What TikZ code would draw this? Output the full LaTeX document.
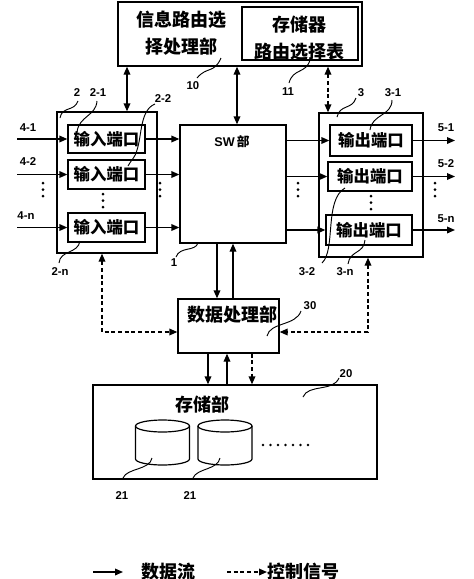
\documentclass[tikz,border=0pt]{standalone}
\usepackage{fontspec}
\setmainfont{Liberation Sans}
\newfontfamily\cjk{Noto Sans CJK SC}
\usetikzlibrary{arrows.meta,fit}
\begin{document}
\begin{tikzpicture}[x=0.75pt,y=-0.75pt,
  box/.style={draw, line width=1pt, inner sep=0pt},
  cj/.style={font=\cjk\bfseries\fontsize{13.5}{15}\selectfont, inner sep=0pt},
  cjp/.style={font=\cjk\bfseries\fontsize{12.3}{14}\selectfont, inner sep=0pt},
  lbl/.style={font=\bfseries\fontsize{8.5}{10}\selectfont, inner sep=0pt},
  sar/.style={line width=1pt, -{Triangle[length=6pt,width=5pt]}},
  dar/.style={line width=1pt, {Triangle[length=6pt,width=5pt]}-{Triangle[length=6pt,width=5pt]}},
  dsh/.style={dash pattern=on 3pt off 2pt},
  lead/.style={line width=0.7pt}]
\useasboundingbox (0,0) rectangle (474,579);
% top boxes
\node[box, fit={(118,2) (362,66)}] (b10) {};
\node[box, fit={(242,7) (358,60)}] (b11) {};
\node[cj, align=center] (t10) at (181,33) {信息路由选\\[5pt]择处理部};
\node[cj, align=center] (t11) at (299,38) {存储器\\[5pt]路由选择表};
% input side
\node[box, fit={(57,112) (157,253)}] (b2) {};
\node[box, fit={(68,125) (145,153)}] (p21) {};
\node[box, fit={(68,160) (145,189)}] (p22) {};
\node[box, fit={(68,213) (145,242)}] (p2n) {};
\node[cjp] (tp21) at (p21.center) {输入端口};
\node[cjp] (tp22) at (p22.center) {输入端口};
\node[cjp] (tp2n) at (p2n.center) {输入端口};
% switch
\node[box, fit={(180,125) (286,243)}] (sw) {};
\node[inner sep=0pt, font=\fontsize{9.5}{11}\selectfont\bfseries] (tsw) at (232,142) {SW\,{\cjk 部}};
% output side
\node[box, fit={(319,113) (423,257)}] (b3) {};
\node[box, fit={(330,125) (412,156)}] (p31) {};
\node[box, fit={(328,162) (412,191)}] (p32) {};
\node[box, fit={(326,215) (412,245)}] (p3n) {};
\node[cjp] (tp31) at (p31.center) {输出端口};
\node[cjp] (tp32) at (p32.center) {输出端口};
\node[cjp] (tp3n) at (p3n.center) {输出端口};
% data processing
\node[box, fit={(178,299) (279,353)}] (b30) {};
\node[cj] (t30) at (232,315) {数据处理部};
% storage
\node[box, fit={(93,385) (377,479)}] (b20) {};
\node[cj] (t20) at (202,405) {存储部};
% cylinders
\foreach \cx in {162.5,225}{
  \draw[line width=0.9pt] (\cx-27,426) -- (\cx-27,459) arc (180:0:27 and 6) -- (\cx+27,426);
  \draw[line width=0.9pt] (\cx,426) ellipse (27 and 6);
}
\foreach \i in {0,...,6} \fill (263+\i*7.5,445) circle (1.4);
% vertical arrows top
\draw[dar] (b10.south -| 127,0) -- (b2.north -| 127,0);
\draw[dar] (b10.south -| 237,0) -- (sw.north -| 237,0);
\draw[dar,dsh] (b10.south -| 328,0) -- (b3.north -| 328,0);
% inputs
\coordinate (i1) at (17,139);
\coordinate (i2) at (17,174.5);
\coordinate (i3) at (17,227.5);
\draw[sar] (i1) -- (p21.west);
\draw[sar] (i2) -- (p22.west);
\draw[sar] (i3) -- (p2n.west);
\draw[sar] (p21.east) -- (p21.east -| sw.west);
\draw[sar] (p22.east) -- (p22.east -| sw.west);
\draw[sar] (p2n.east) -- (p2n.east -| sw.west);
% outputs
\draw[sar] (sw.east |- p31.west) -- (p31.west);
\draw[sar] (sw.east |- p32.west) -- (p32.west);
\draw[sar] (sw.east |- p3n.west) -- (p3n.west);
\coordinate (oe) at (455,0);
\draw[sar] (p31.east) -- (p31.east -| oe);
\draw[sar] (p32.east) -- (p32.east -| oe);
\draw[sar] (p3n.east) -- (p3n.east -| oe);
% dots
\foreach \x/\y in {43/183,103/194,160/183,298/183,371/196,435/183}{
  \foreach \k in {0,1,2} \fill (\x,\y+\k*6.5) circle (1.5);
}
% sw <-> 30
\draw[sar] (sw.south -| 217,0) -- (b30.north -| 217,0);
\draw[sar] (b30.north -| 233,0) -- (sw.south -| 233,0);
\draw[dar,dsh] (b2.south -| 102,0) |- (b30.west |- 0,332);
\draw[dar,dsh] (b3.south -| 368,0) |- (b30.east |- 0,332);
% 30 <-> 20
\draw[sar] (b30.south -| 208,0) -- (b20.north -| 208,0);
\draw[sar] (b20.north -| 227,0) -- (b30.south -| 227,0);
\draw[sar,dsh] (b30.south -| 252,0) -- (b20.north -| 252,0);
% labels
\node[lbl] (l41) at (28,128) {4-1};
\node[lbl] (l42) at (28,162) {4-2};
\node[lbl] (l4n) at (26,216) {4-n};
\node[lbl] (l51) at (446,128) {5-1};
\node[lbl] (l52) at (446,164) {5-2};
\node[lbl] (l5n) at (446,219) {5-n};
\node[lbl] (l2) at (77,93) {2};
\node[lbl] (l21) at (98,93) {2-1};
\node[lbl] (l22) at (163,99) {2-2};
\node[lbl] (l2n) at (60,272) {2-n};
\node[lbl] (l1) at (174,263) {1};
\node[lbl] (l3) at (361,93) {3};
\node[lbl] (l31) at (393,93) {3-1};
\node[lbl] (l32) at (307,272) {3-2};
\node[lbl] (l3n) at (345,272) {3-n};
\node[lbl] (l10) at (193,86) {10};
\node[lbl] (l11) at (288,92) {11};
\node[lbl] (l30) at (310,306) {30};
\node[lbl] (l20) at (346,374) {20};
\node[lbl] (l21a) at (122,496) {21};
\node[lbl] (l21b) at (190,496) {21};
% leaders
\draw[lead] (197,78) .. controls (207,66) and (214,74) .. (221,58);
\draw[lead] (289,83) .. controls (293,68) and (306,74) .. (310,60);
\draw[lead] (78,101) .. controls (74,112) and (62,106) .. (60,118);
\draw[lead] (97,101) .. controls (96,116) and (79,116) .. (77,132);
\draw[lead] (155,104) .. controls (140,110) and (142,135) .. (137,150) .. controls (135,158) and (131,160) .. (128,166);
\draw[lead] (59,263) .. controls (60,250) and (78,254) .. (80,241);
\draw[lead] (176,257) .. controls (180,246) and (195,252) .. (198,243);
\draw[lead] (356,98) .. controls (352,110) and (340,104) .. (337,117);
\draw[lead] (392,100) .. controls (392,116) and (372,114) .. (370,130);
\draw[lead] (322,263) .. controls (336,250) and (324,200) .. (345,188);
\draw[lead] (348,264) .. controls (350,250) and (364,254) .. (365,240);
\draw[lead] (301,311) .. controls (296,326) and (270,322) .. (267,336);
\draw[lead] (339,378) .. controls (333,392) and (308,384) .. (303,397);
\draw[lead] (123,478) .. controls (127,468) and (150,470) .. (152,458);
\draw[lead] (193,478) .. controls (197,468) and (218,470) .. (220,458);
% legend
\coordinate (ls1) at (93,572);
\coordinate (ls2) at (123,572);
\coordinate (ld1) at (227,572);
\coordinate (ld2) at (267,572);
\draw[sar] (ls1) -- (ls2);
\node[cj] (lg1) at (168,572) {数据流};
\draw[sar,dsh] (ld1) -- (ld2);
\node[cj, anchor=west] (lg2) at (ld2) {控制信号};
\end{tikzpicture}
\end{document}
